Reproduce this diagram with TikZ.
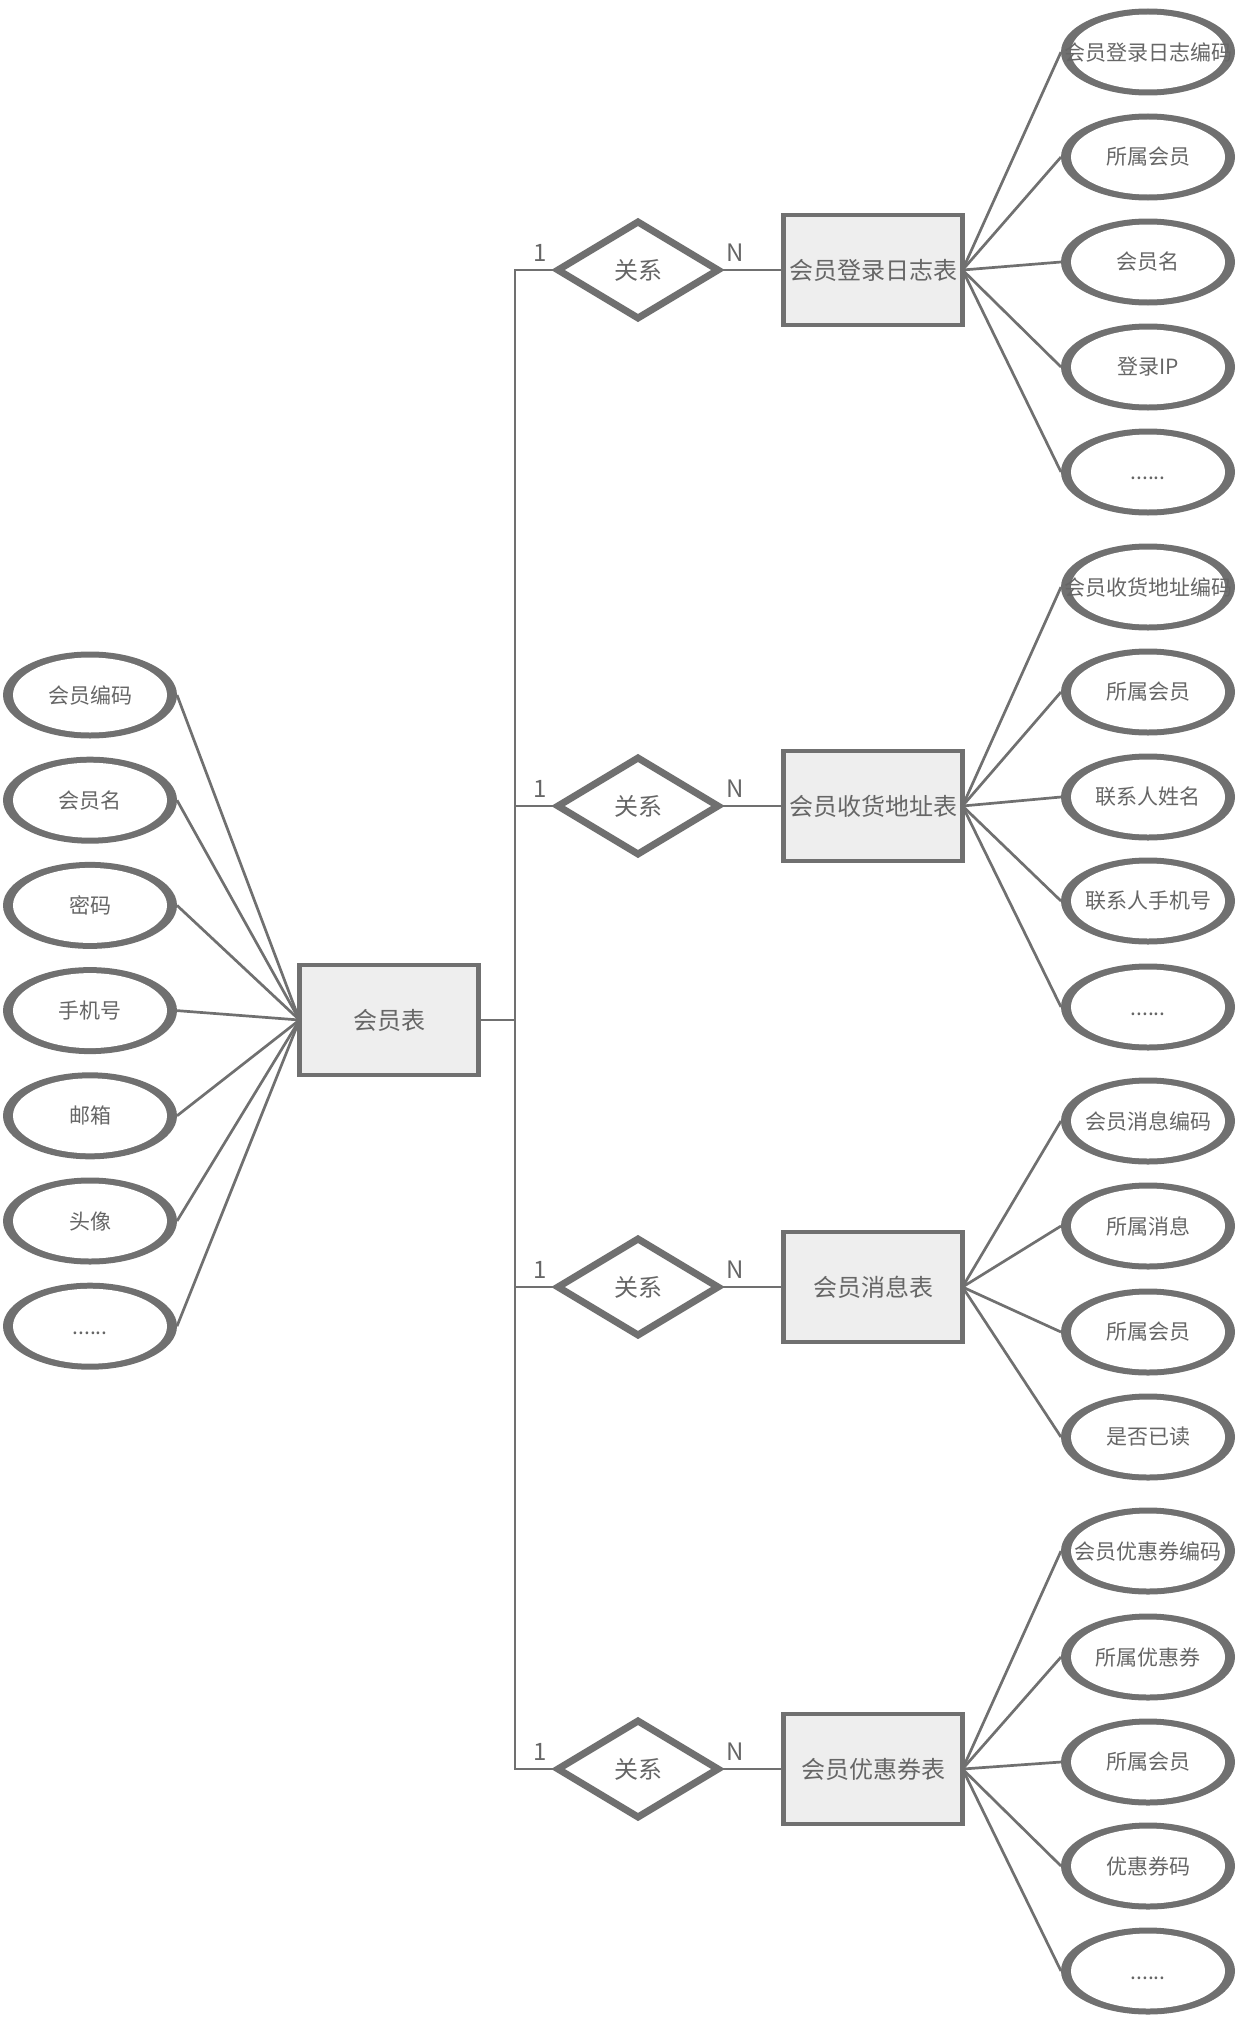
\documentclass[tikz,border=0pt]{standalone}
\usepackage{fontspec}
\setmainfont{Noto Sans CJK SC}
\usetikzlibrary{shapes.geometric}
\definecolor{lc}{HTML}{707070}
\definecolor{tc}{HTML}{666666}
\definecolor{rf}{HTML}{EEEEEE}
\newcommand\attrtxt[1]{\makebox[0pt]{\vphantom{会}#1}}
\newcommand\sixdots{......}
\tikzset{
  attr/.style={ellipse, fill=lc, minimum width=174pt, minimum height=87pt, inner sep=0pt, outer sep=0pt, text=tc, font=\fontsize{21}{24}\selectfont,
    path picture={\fill[white] (path picture bounding box.center) ellipse [x radius=77pt, y radius=37.5pt];}},
  ent/.style={rectangle, draw=lc, line width=4.5pt, fill=rf, minimum width=179pt, minimum height=110pt, inner sep=0pt, outer sep=0pt, text=tc, font=\fontsize{24}{28}\selectfont},
  rel/.style={diamond, draw=lc, line width=7pt, fill=white, minimum width=160pt, minimum height=96pt, inner sep=0pt, outer sep=0pt, text=tc, font=\fontsize{24}{28}\selectfont},
  conn/.style={draw=lc, line width=2.7pt},
  card/.style={text=tc, inner sep=0pt, font=\fontsize{24}{28}\selectfont}
}
\begin{document}
\begin{tikzpicture}[x=1pt,y=-1pt]
\useasboundingbox (0,0) rectangle (1242,2039);
% member table
\node[ent] (m) at (389,1020) {会员表};
\foreach \t [count=\i] in {会员编码,会员名,密码,手机号,邮箱,头像,\sixdots}{
  \node[attr] (l\i) at (90,{695+105.2*(\i-1)}) {\attrtxt{\t}};
  \draw[conn] (l\i.east) -- (m.west);
}
\coordinate (j) at (515,1020);
\draw[conn] (m.east) -- (j);
% entities and relations
\foreach \i/\y/\t in {1/270/会员登录日志表,2/806/会员收货地址表,3/1287/会员消息表,4/1769/会员优惠券表}{
  \node[rel] (d\i) at (638,\y) {关系};
  \node[ent] (e\i) at (873,\y) {\t};
  \node[card] (ca\i) at (540,\y-17) {1};
  \node[card] (cb\i) at (735,\y-17) {N};
  \draw[conn] (d\i.west) -| (j);
  \draw[conn] (d\i.east) -- (e\i.west);
}
% group 1
\foreach \t/\y [count=\k] in {会员登录日志编码/52,所属会员/157,会员名/262,登录IP/367,\sixdots/472}{
  \node[attr] (a1\k) at (1148,\y) {\attrtxt{\t}};
  \draw[conn] (e1.east) -- (a1\k.west);
}
% group 2
\foreach \t/\y [count=\k] in {会员收货地址编码/587,所属会员/692,联系人姓名/797,联系人手机号/901,\sixdots/1007}{
  \node[attr] (a2\k) at (1148,\y) {\attrtxt{\t}};
  \draw[conn] (e2.east) -- (a2\k.west);
}
% group 3
\foreach \t/\y [count=\k] in {会员消息编码/1121,所属消息/1226,所属会员/1332,是否已读/1437}{
  \node[attr] (a3\k) at (1148,\y) {\attrtxt{\t}};
  \draw[conn] (e3.east) -- (a3\k.west);
}
% group 4
\foreach \t/\y [count=\k] in {会员优惠券编码/1551,所属优惠券/1657,所属会员/1762,优惠券码/1866,\sixdots/1971}{
  \node[attr] (a4\k) at (1148,\y) {\attrtxt{\t}};
  \draw[conn] (e4.east) -- (a4\k.west);
}
\end{tikzpicture}
\end{document}
